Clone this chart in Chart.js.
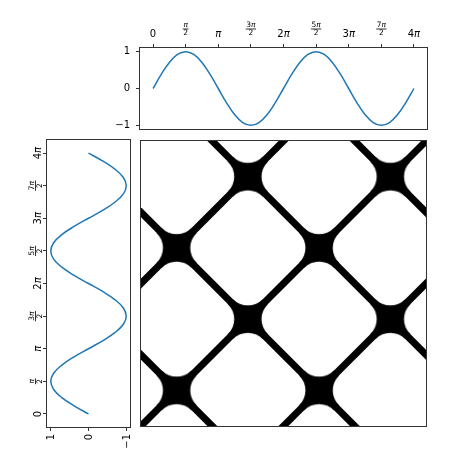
<!DOCTYPE html>
<html>
<head>
<meta charset="utf-8">
<script src="https://cdn.jsdelivr.net/npm/chart.js@4.4.0/dist/chart.umd.min.js"></script>
<style>
html, body { margin: 0; padding: 0; background: #fff; }
#wrap { position: relative; width: 474px; height: 474px; }
canvas { position: absolute; }
</style>
</head>
<body>
<div id="wrap">
  <canvas id="topChart" width="340" height="134" style="left:100px;top:0px"></canvas>
  <canvas id="leftChart" width="135" height="339" style="left:0px;top:135px"></canvas>
  <canvas id="mainChart" width="297" height="297" style="left:135px;top:135px"></canvas>
</div>
<script>
// samples of the curve, step pi/8 from 0 to 4pi
var angles = [0, 0.393, 0.785, 1.178, 1.571, 1.963, 2.356, 2.749, 3.142, 3.534, 3.927,
  4.320, 4.712, 5.105, 5.498, 5.890, 6.283, 6.676, 7.069, 7.461, 7.854, 8.247, 8.639,
  9.032, 9.425, 9.817, 10.210, 10.603, 10.996, 11.388, 11.781, 12.174, 12.566];
var sineVals = [0, 0.383, 0.707, 0.924, 1, 0.924, 0.707, 0.383, 0, -0.383, -0.707,
  -0.924, -1, -0.924, -0.707, -0.383, 0, 0.383, 0.707, 0.924, 1, 0.924, 0.707,
  0.383, 0, -0.383, -0.707, -0.924, -1, -0.924, -0.707, -0.383, 0];

// tick values and labels
var piTicks = [0, 1.571, 3.142, 4.712, 6.283, 7.854, 9.425, 10.996, 12.566];
var piTickLabels = ['0', ['π', '2'], 'π', ['3π', '2'], '2π', ['5π', '2'], '3π', ['7π', '2'], '4π'];
var sineTicks = [-1, 0, 1];
var sineTickLabels = ['−1', '0', '1'];

// image: saddle points and the zero lines x+y=c, x-y=c
var starX = [1.5, 3.5, 0.5, 2.5, 1.5, 3.5, 0.5, 2.5];
var starY = [3.5, 3.5, 2.5, 2.5, 1.5, 1.5, 0.5, 0.5];
var bandSums = [1, 3, 5, 7];
var bandDiffs = [-2, 0, 2];

var BLUE = '#1f77b4';
var FONT = '"DejaVu Sans", sans-serif';
var BAND_W = 7;
var FRAC = 7.5;

function drawMath(ctx, text, x, y, size, align) {
    var parts = text.split(/(π)/).filter(function (p) { return p !== ''; });
    var fonts = parts.map(function (p) { return (p === 'π' ? 'italic ' : '') + size + 'px ' + FONT; });
    var widths = parts.map(function (p, i) { ctx.font = fonts[i]; return ctx.measureText(p).width; });
    var total = widths.reduce(function (a, b) { return a + b; }, 0);
    var cx = align === 'right' ? x - total : x - total / 2;
    ctx.textAlign = 'left';
    ctx.textBaseline = 'alphabetic';
    parts.forEach(function (p, i) {
        ctx.font = fonts[i];
        ctx.fillText(p, cx, y);
        cx += widths[i];
    });
    return total;
}

function textWidth(ctx, text, size) {
    var w = 0;
    text.split(/(π)/).forEach(function (p) {
        if (!p) return;
        ctx.font = (p === 'π' ? 'italic ' : '') + size + 'px ' + FONT;
        w += ctx.measureText(p).width;
    });
    return w;
}

// draws the pi labels next to an axis, fractions stacked
function makePiLabels(axis, rotated, off) {
    return {
        id: 'piLabels' + axis,
        afterDraw: function (chart) {
            var ctx = chart.ctx, a = chart.chartArea, scale = chart.scales[axis];
            ctx.save();
            ctx.fillStyle = '#000';
            piTicks.forEach(function (v, i) {
                var p = scale.getPixelForValue(v);
                var lab = piTickLabels[i];
                ctx.save();
                if (rotated) {
                    ctx.translate(a.left, p);
                    ctx.rotate(-Math.PI / 2);
                } else {
                    ctx.translate(p, a.top);
                }
                if (Array.isArray(lab)) {
                    drawMath(ctx, lab[0], 0, off.num, FRAC);
                    drawMath(ctx, lab[1], 0, off.den, FRAC);
                    var bw = Math.max(textWidth(ctx, lab[0], FRAC), textWidth(ctx, lab[1], FRAC)) + 1;
                    ctx.fillRect(-bw / 2, off.bar - 0.4, bw, 0.8);
                } else {
                    drawMath(ctx, lab, 0, off.single, 10);
                }
                ctx.restore();
            });
            ctx.restore();
        }
    };
}

var framePlugin = {
    id: 'frame',
    afterDraw: function (chart) {
        var a = chart.chartArea, ctx = chart.ctx;
        ctx.save();
        ctx.strokeStyle = '#333';
        ctx.lineWidth = 1;
        ctx.strokeRect(a.left - 0.5, a.top - 0.5, a.width + 1, a.height + 1);
        ctx.restore();
    }
};

var tickGrid = { display: true, drawOnChartArea: false, drawTicks: true, tickLength: 4, tickWidth: 1, tickColor: '#333' };

function setTicks(values) {
    return function (scale) {
        scale.ticks = values.map(function (v) { return { value: v }; });
    };
}

var common = {
    responsive: false,
    animation: false,
    events: [],
    plugins: { legend: { display: false }, tooltip: { enabled: false } }
};

// top: sine along x
new Chart(document.getElementById('topChart'), {
    type: 'scatter',
    data: {
        datasets: [{
            data: angles.map(function (a, i) { return { x: a, y: sineVals[i] }; }),
            showLine: true,
            borderColor: BLUE,
            borderWidth: 1.5,
            pointRadius: 0,
            tension: 0.4
        }]
    },
    options: Object.assign({}, common, {
        layout: { padding: { left: 0, right: 13, top: 0, bottom: 5 } },
        scales: {
            x: {
                type: 'linear', position: 'top', min: -0.628, max: 13.195,
                afterBuildTicks: setTicks(piTicks),
                ticks: { display: false },
                grid: tickGrid,
                border: { display: false },
                afterFit: function (s) { s.height = 48; s.paddingLeft = 0; s.paddingRight = 0; }
            },
            y: {
                type: 'linear', min: -1.1, max: 1.1,
                afterBuildTicks: setTicks(sineTicks),
                ticks: {
                    autoSkip: false, padding: 6, color: '#000',
                    font: { family: 'DejaVu Sans', size: 10 },
                    callback: function (v) { return sineTickLabels[sineTicks.indexOf(v)]; }
                },
                grid: tickGrid,
                border: { display: false },
                afterFit: function (s) { s.width = 40; s.paddingTop = 0; s.paddingBottom = 0; }
            }
        }
    }),
    plugins: [framePlugin, makePiLabels('x', false, { single: -10.7, num: -21, bar: -19, den: -12.6 })]
});

// left: sine along y, x reversed
var leftNumLabels = {
    id: 'leftNum',
    afterDraw: function (chart) {
        var ctx = chart.ctx, a = chart.chartArea, scale = chart.scales.x;
        ctx.save();
        ctx.fillStyle = '#000';
        sineTicks.forEach(function (v, i) {
            ctx.save();
            ctx.translate(scale.getPixelForValue(v), a.bottom + 7);
            ctx.rotate(-Math.PI / 2);
            drawMath(ctx, sineTickLabels[i], 0, 3.6, 10, 'right');
            ctx.restore();
        });
        ctx.restore();
    }
};

new Chart(document.getElementById('leftChart'), {
    type: 'scatter',
    data: {
        datasets: [{
            data: angles.map(function (a, i) { return { x: sineVals[i], y: a }; }),
            showLine: true,
            borderColor: BLUE,
            borderWidth: 1.5,
            pointRadius: 0,
            tension: 0.4
        }]
    },
    options: Object.assign({}, common, {
        layout: { padding: { left: 0, right: 5, top: 5, bottom: 0 } },
        scales: {
            x: {
                type: 'linear', position: 'bottom', min: -1.1, max: 1.1, reverse: true,
                afterBuildTicks: setTicks(sineTicks),
                ticks: { display: false },
                grid: tickGrid,
                border: { display: false },
                afterFit: function (s) { s.height = 47; s.paddingLeft = 0; s.paddingRight = 0; }
            },
            y: {
                type: 'linear', min: -0.628, max: 13.195,
                afterBuildTicks: setTicks(piTicks),
                ticks: { display: false },
                grid: tickGrid,
                border: { display: false },
                afterFit: function (s) { s.width = 47; s.paddingTop = 0; s.paddingBottom = 0; }
            }
        }
    }),
    plugins: [framePlugin, leftNumLabels, makePiLabels('y', true, { single: -6, num: -13, bar: -11.5, den: -5.3 })]
});

// main: black bands with star shaped crossings
function makeStar(w, r) {
    var d = w / 2 * Math.SQRT2;
    var c = d + r * Math.SQRT2;
    var size = Math.ceil(2 * c) + 2;
    var cv = document.createElement('canvas');
    cv.width = size; cv.height = size;
    var g = cv.getContext('2d');
    var m = size / 2;
    g.fillStyle = '#000';
    g.beginPath();
    g.moveTo(m + c, m); g.lineTo(m, m + c); g.lineTo(m - c, m); g.lineTo(m, m - c);
    g.closePath();
    g.fill();
    g.globalCompositeOperation = 'destination-out';
    [[c, 0], [-c, 0], [0, c], [0, -c]].forEach(function (o) {
        g.beginPath();
        g.arc(m + o[0], m + o[1], r, 0, Math.PI * 2);
        g.fill();
    });
    return cv;
}

var bandSets = [];
bandSums.forEach(function (c) {
    bandSets.push({ data: [{ x: -1, y: c + 1 }, { x: 5, y: c - 5 }] });
});
bandDiffs.forEach(function (c) {
    bandSets.push({ data: [{ x: -1, y: -1 - c }, { x: 5, y: 5 - c }] });
});
bandSets.forEach(function (ds) {
    ds.showLine = true;
    ds.borderColor = '#000';
    ds.borderWidth = BAND_W;
    ds.pointRadius = 0;
    ds.clip = 0;
});

new Chart(document.getElementById('mainChart'), {
    type: 'scatter',
    data: {
        datasets: [{
            data: starX.map(function (x, i) { return { x: x, y: starY[i] }; }),
            pointStyle: makeStar(BAND_W, 21),
            pointRadius: 5,
            clip: 0
        }].concat(bandSets)
    },
    options: Object.assign({}, common, {
        layout: { padding: 5 },
        scales: {
            x: { type: 'linear', min: 0, max: 4, display: false },
            y: { type: 'linear', min: 0, max: 4, display: false }
        }
    }),
    plugins: [framePlugin]
});
</script>
</body>
</html>
